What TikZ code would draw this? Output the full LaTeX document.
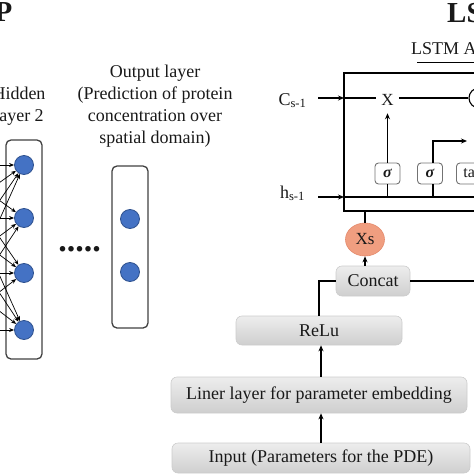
\documentclass[tikz,border=0pt]{standalone}
\usepackage{fontspec}
\setmainfont{Liberation Serif}
\usetikzlibrary{arrows.meta,shapes.geometric}
\definecolor{nodeblue}{RGB}{68,114,196}
\definecolor{nodeedge}{RGB}{47,82,143}
\definecolor{xsfill}{RGB}{240,158,128}
\definecolor{xsedge}{RGB}{228,138,108}
\begin{document}
\begin{tikzpicture}[x=1pt,y=-1pt,
  every node/.style={font=\fontsize{18}{22}\selectfont, text=black!90},
  layerbox/.style={draw=black!75, line width=1.3pt, rounded corners=5pt, minimum width=36pt, inner sep=0pt},
  neuron/.style={circle, fill=nodeblue, draw=nodeedge, line width=0.8pt, minimum size=19pt, inner sep=0pt},
  conn/.style={-{Stealth[length=5pt,width=4pt]}, line width=0.7pt},
  greybox/.style={rounded corners=6pt, top color=gray!14, bottom color=gray!38, draw=gray!40, line width=0.6pt, inner sep=0pt},
  gatebox/.style={draw=black!55, rounded corners=3.5pt, fill=white, line width=0.9pt, minimum width=25pt, minimum height=21pt, inner sep=0pt, font=\fontsize{16}{16}\selectfont\bfseries\itshape},
  wire/.style={line width=1.1pt},
  arr/.style={wire, -{Stealth[length=6pt,width=5pt]}},
]
\useasboundingbox (0,0) rectangle (474,474);
\clip (0,0) rectangle (474,474);

% ---------- titles ----------
\node[font=\fontsize{29}{29}\selectfont\bfseries, anchor=base east, inner sep=0pt] (mlptitle) at (12.5,21) {P};
\node[font=\fontsize{29}{29}\selectfont\bfseries, anchor=base west, inner sep=0pt] (lstmtitle) at (447,22) {LS};

% ---------- MLP part ----------
\node[align=center] (htext) at (19,106) {Hidden\\layer 2};
\node[align=center] (otext) at (155,106) {Output layer\\(Prediction of protein\\concentration over\\spatial domain)};

\node[layerbox, minimum height=219pt] (h2box) at (24,249.5) {};
\node[neuron] (b1) at (24,165) {};
\node[neuron] (b2) at (24,218) {};
\node[neuron] (b3) at (24,273) {};
\node[neuron] (b4) at (24,330) {};

\coordinate (a1) at (-50,165);
\coordinate (a2) at (-50,218);
\coordinate (a3) at (-50,273);
\coordinate (a4) at (-50,330);
\foreach \i in {1,...,4}
  \foreach \j in {1,...,4}
    \draw[conn] (a\i) -- (b\j);

\node[font=\fontsize{34}{34}\selectfont\bfseries, anchor=base] (dots) at (79.5,251) {.....};

\node[layerbox, minimum height=162pt] (obox) at (130,247) {};
\node[neuron] (c1) at (130,219) {};
\node[neuron] (c2) at (130,272) {};

% ---------- LSTM part ----------
\node[anchor=base west, inner sep=0pt] (ltitle) at (411,54) {LSTM A};
\coordinate (ul) at (417,62);
\draw[line width=1pt] (ul) -- ++(60,0);

\node[draw, wire, minimum width=276pt, minimum height=138pt, inner sep=0pt] (cell) at (482,142) {};
\coordinate (hin) at (344,197);
\draw[wire] (hin) -- ++(300,0);

\node[anchor=base, inner sep=0pt] (clabel) at (292.5,105) {C\textsubscript{s-1}};
\node[anchor=base, inner sep=0pt] (hlabel) at (292.5,198) {h\textsubscript{s-1}};

\coordinate (cin) at (318,98);
\coordinate (cedge) at (344,98);
\coordinate (hstart) at (318,197);
\draw[arr] (cin) -- (cedge);
\draw[arr] (hstart) -- (hin);

\node[inner sep=5pt, font=\fontsize{17}{17}\selectfont] (xop) at (387.5,99.5) {X};
\node[circle, draw, wire, minimum size=20pt, inner sep=0pt] (plus) at (479,98) {};
\draw[wire] (cedge) -- (cedge -| xop.west);
\draw[wire] (cedge -| xop.east) -- (plus.west);

\node[gatebox] (g1) at (387.5,173.5) {σ};
\node[gatebox] (g2) at (430,173.5) {σ};
\node[gatebox, anchor=west, minimum width=44pt, text width=30pt, align=left, font=\fontsize{16}{16}\selectfont] (g3) at (456,173.5) {ta};

\draw[arr, shorten >=3pt] (g1.north) -- (xop.south);
\coordinate (g2out) at (467,141);
\draw[arr] ([xshift=3pt]g2.north) |- (g2out);
\draw[wire] (g1.south) -- (g1.south |- hin);
\draw[wire] ([xshift=3pt]g2.south) -- ([xshift=3pt]g2.south |- hin);
\draw[wire] (g3.south) -- (g3.south |- hin);

\node[ellipse, fill=xsfill, draw=xsedge, line width=0.6pt, minimum width=39pt, minimum height=33pt, inner sep=0pt, font=\fontsize{17}{17}\selectfont] (xs) at (365,239.5) {Xs};
\draw[wire] (xs.north) -- (xs.north |- cell.south);

\node[greybox, minimum width=74pt, minimum height=30pt] (concat) at (373,281) {Concat};
\node[greybox, minimum width=166pt, minimum height=29pt] (relu) at (319,330.5) {ReLu};
\node[greybox, minimum width=296pt, minimum height=36pt] (liner) at (319,395) {Liner layer for parameter embedding};
\node[greybox, minimum width=298pt, minimum height=30pt] (input) at (321,458) {Input (Parameters for the PDE)};

\draw[arr] (concat.north -| xs) -- (xs.south);
\draw[wire] (concat.west) -| (relu.north);
\coordinate (cright) at (480,281);
\draw[wire] (concat.east) -- (cright);
\draw[arr] (input.north) -- (input.north |- liner.south);
\draw[arr] (input.north |- liner.north) -- (input.north |- relu.south);
\end{tikzpicture}
\end{document}
